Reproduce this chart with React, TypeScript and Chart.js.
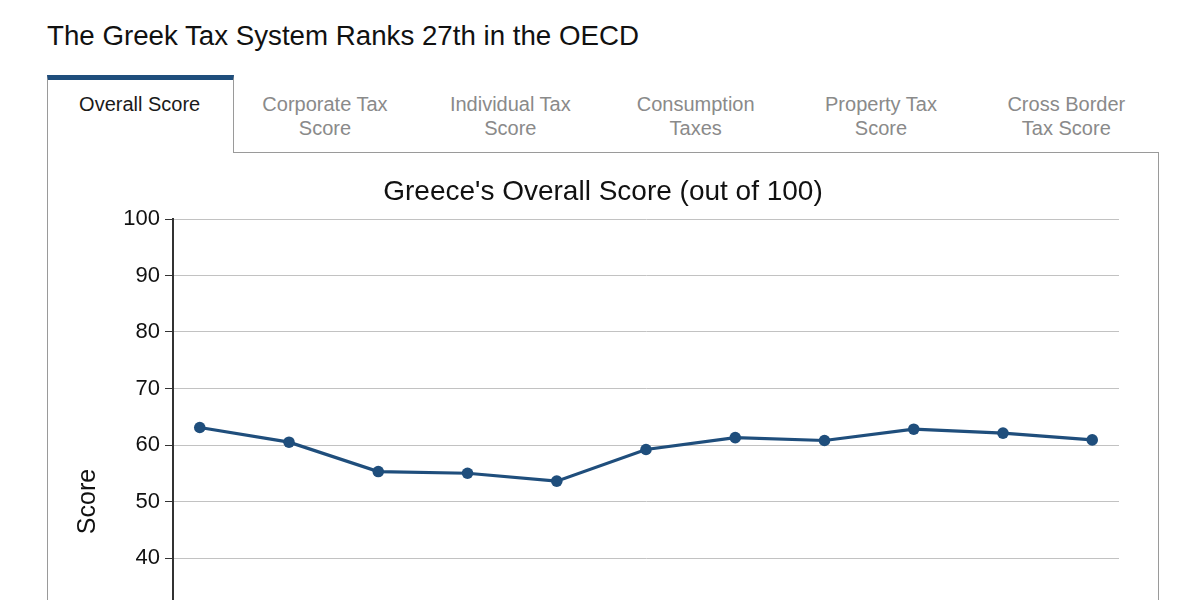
import React, { useEffect, useRef } from "react";
import { Chart, registerables } from "chart.js";

Chart.register(...registerables);

const pageTitle = "The Greek Tax System Ranks 27th in the OECD";
const tabLabels: string[][] = [
  ["Overall Score"],
  ["Corporate Tax", "Score"],
  ["Individual Tax", "Score"],
  ["Consumption", "Taxes"],
  ["Property Tax", "Score"],
  ["Cross Border", "Tax Score"],
];
const chartTitle = "Greece's Overall Score (out of 100)";
const yAxisTitle = "Score";
const years = [2014, 2015, 2016, 2017, 2018, 2019, 2020, 2021, 2022, 2023, 2024];
const scores = [63.1, 60.5, 55.3, 55.0, 53.6, 59.2, 61.3, 60.8, 62.8, 62.1, 60.9];
const yTicks = [0, 10, 20, 30, 40, 50, 60, 70, 80, 90, 100];

const BLUE = "#1f4e7c";
const BORDER = "#9a9a9a";
const FONT = '"Liberation Sans", Arial, Helvetica, sans-serif';

function ChartCanvas() {
  const ref = useRef<HTMLCanvasElement | null>(null);
  useEffect(() => {
    if (!ref.current) return;
    Chart.defaults.font.family = FONT;
    const chart = new Chart(ref.current, {
      type: "line",
      data: {
        datasets: [
          {
            data: years.map((x, i) => ({ x, y: scores[i] })),
            borderColor: BLUE,
            backgroundColor: BLUE,
            borderWidth: 3.2,
            pointRadius: 5.8,
            pointBackgroundColor: BLUE,
            pointBorderColor: BLUE,
            pointBorderWidth: 0,
            tension: 0,
          },
        ],
      },
      options: {
        responsive: false,
        animation: false,
        devicePixelRatio: 1,
        layout: { padding: { top: 0, right: 39, bottom: 24, left: 39 } },
        plugins: {
          legend: { display: false },
          tooltip: { enabled: false },
          title: {
            display: true,
            text: chartTitle,
            color: "#111",
            font: { size: 28, weight: "normal", family: FONT },
            padding: { top: 22, bottom: 10.4 },
          },
        },
        scales: {
          x: {
            type: "linear",
            min: years[0] - 0.3,
            max: years[years.length - 1] + 0.3,
            afterBuildTicks: (s: any) => {
              s.ticks = years.map((v) => ({ value: v }));
            },
            afterFit: (s: any) => {
              s.height = 45;
            },
            grid: { display: false },
            border: { color: "#333", width: 2 },
            ticks: {
              color: "#111",
              font: { size: 20, family: FONT },
              callback: (v: any) => String(v),
            },
          },
          y: {
            min: 0,
            max: 100,
            afterBuildTicks: (s: any) => {
              s.ticks = yTicks.map((v) => ({ value: v }));
            },
            afterFit: (s: any) => {
              s.width = 86;
            },
            grid: {
              color: "#c2c2c2",
              lineWidth: 1,
              drawTicks: true,
              tickLength: 8,
              tickColor: "#333",
            },
            border: { color: "#333", width: 2 },
            ticks: {
              color: "#111",
              padding: 5,
              font: { size: 22, family: FONT },
            },
            title: {
              display: true,
              text: yAxisTitle,
              color: "#111",
              font: { size: 25, family: FONT },
              padding: { top: -14, bottom: 0 },
            },
          },
        },
      },
    } as any);
    return () => chart.destroy();
  }, []);
  return (
    <canvas
      ref={ref}
      width={1110}
      height={700}
      style={{ position: "absolute", left: 48, top: 153, width: 1110, height: 700 }}
    />
  );
}

export default function App() {
  const tabW = 1112 / 6;
  return (
    <div
      style={{
        position: "fixed",
        left: 0,
        top: 0,
        width: 1200,
        height: 600,
        overflow: "hidden",
        background: "#fff",
        fontFamily: FONT,
      }}
    >
      <div
        style={{
          position: "absolute",
          left: 47,
          top: 19.5,
          fontSize: 27.7,
          lineHeight: "32px",
          color: "#111",
          whiteSpace: "nowrap",
        }}
      >
        {pageTitle}
      </div>
      {/* panel */}
      <div
        style={{
          position: "absolute",
          left: 47,
          top: 152,
          width: 1110,
          height: 700,
          border: `1px solid ${BORDER}`,
        }}
      />
      {/* active tab */}
      <div
        style={{
          position: "absolute",
          left: 47,
          top: 75,
          width: 185,
          height: 73,
          borderTop: `5px solid ${BLUE}`,
          borderLeft: `1px solid ${BORDER}`,
          borderRight: `1px solid ${BORDER}`,
          background: "#fff",
        }}
      />
      {tabLabels.map((lines, i) => (
        <div
          key={i}
          style={{
            position: "absolute",
            left: 47 + i * tabW,
            top: 92,
            width: tabW,
            textAlign: "center",
            fontSize: 20,
            lineHeight: "24px",
            color: i === 0 ? "#1a1a1a" : "#8a8a8a",
          }}
        >
          {lines.map((l, j) => (
            <div key={j}>{l}</div>
          ))}
        </div>
      ))}
      <ChartCanvas />
    </div>
  );
}
